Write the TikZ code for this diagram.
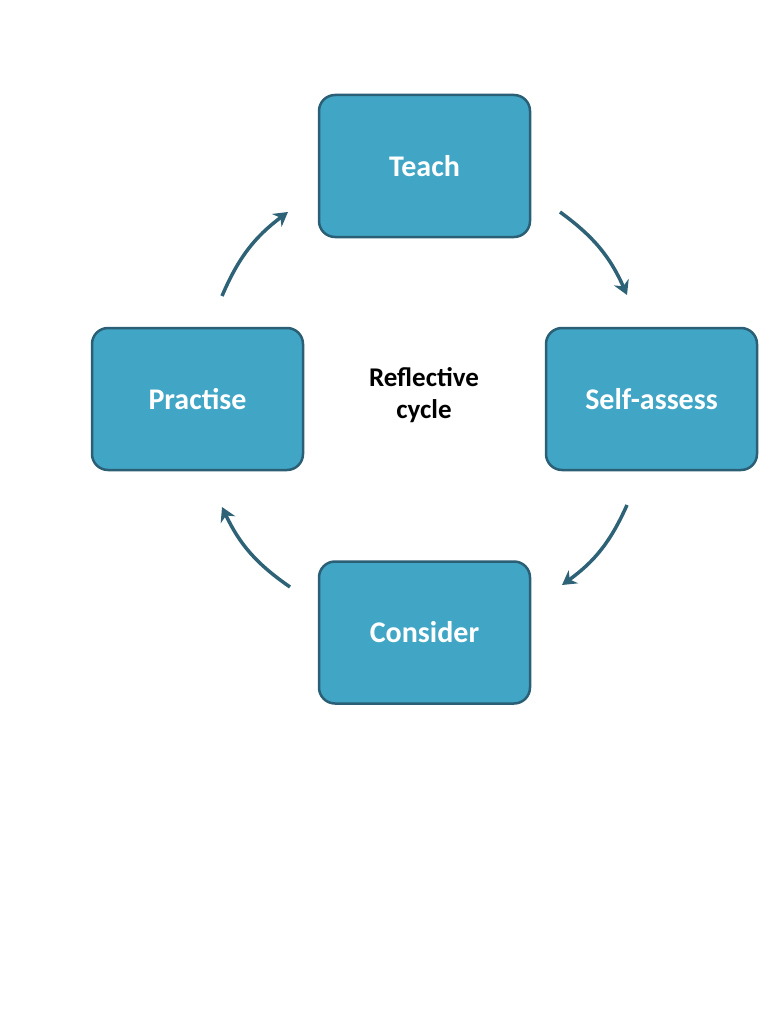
\documentclass[tikz,border=0pt]{standalone}
\usepackage{fontspec}
\setmainfont{Carlito}
\usetikzlibrary{arrows.meta}
\definecolor{boxfill}{HTML}{41A6C6}
\definecolor{boxline}{HTML}{2B5F75}
\definecolor{arr}{HTML}{2E6377}
\begin{document}
\begin{tikzpicture}[x=1pt,y=-1pt,
  stagebox/.style={draw=boxline,line width=2.5pt,fill=boxfill,rounded corners=16pt,minimum width=211pt,minimum height=142pt,text=white,font=\bfseries\fontsize{30}{34}\selectfont},
  cyclearrow/.style={draw=arr,line width=3.5pt,-{Stealth[length=14pt,width=16pt]}}]
\useasboundingbox (0,0) rectangle (768,1024);
\node[stagebox] (teach) at (424.5,166) {Teach};
\node[stagebox] (self) at (651.5,399) {Self-assess};
\node[stagebox] (prac) at (197.5,399) {Practise};
\node[stagebox] (cons) at (424.5,632.5) {Consider};
\node[font=\bfseries\fontsize{27}{32}\selectfont,align=center] (center) at (424,395) {Reflective\\cycle};
\coordinate (a1) at (560,212); \coordinate (b1) at (627,295);
\coordinate (a2) at (627,505); \coordinate (b2) at (562,585);
\coordinate (a3) at (290,587); \coordinate (b3) at (222,507);
\coordinate (a4) at (222,296); \coordinate (b4) at (288,212);
\draw[cyclearrow] (a1) to[bend left=15] (b1);
\draw[cyclearrow] (a2) to[bend left=15] (b2);
\draw[cyclearrow] (a3) to[bend left=15] (b3);
\draw[cyclearrow] (a4) to[bend left=15] (b4);
\end{tikzpicture}
\end{document}
